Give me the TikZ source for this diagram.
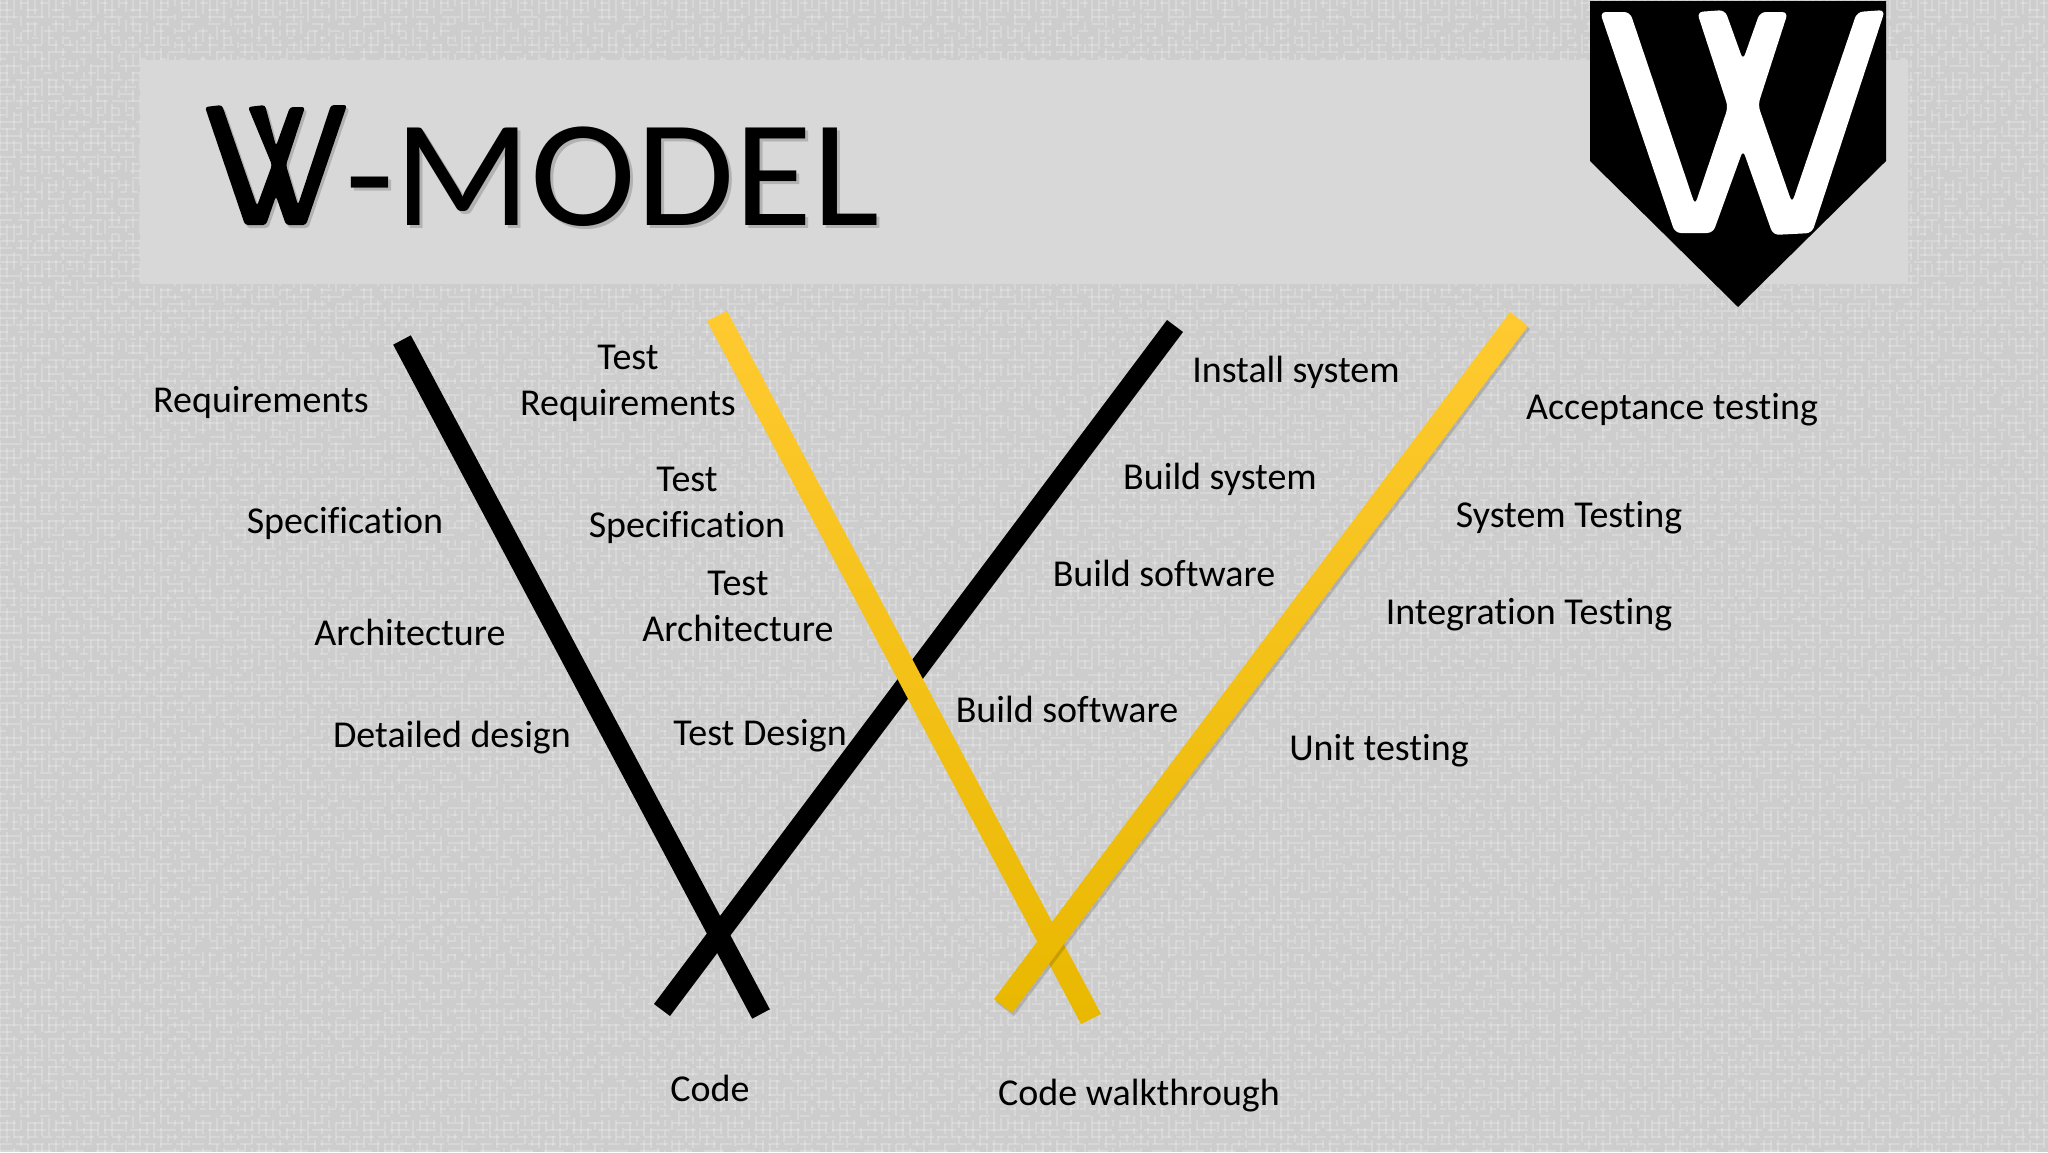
\documentclass[tikz,border=0pt]{standalone}
\usepackage{fontspec}
\setmainfont[Ligatures=NoCommon]{Carlito}

\definecolor{wallgrey}{HTML}{CDCDCD}
\definecolor{bannergrey}{HTML}{D8D8D8}
\definecolor{bandtop}{HTML}{FFCA30}
\definecolor{bandmid}{HTML}{FFC000}
\definecolor{bandlow}{HTML}{E9B800}

\tikzset{
  lbl/.style={font=\fontsize{19}{23}\selectfont, align=center, inner sep=0pt},
  bigtext/.style={anchor=base west, inner sep=0pt, font=\fontsize{76}{76}\selectfont},
  blackband/.style={line width=10pt, black},
  ribbon/.style={top color=bandtop, middle color=bandmid, bottom color=bandlow},
}

% the crossed W of the logo and of the title, in picture pixels
\newcommand{\logow}{(1600,12) -- (1630,12) -- (1695,205) -- (1728,107) -- (1697,12) -- (1725,10)
  -- (1743,60) -- (1760,12) -- (1788,12) -- (1758,105) -- (1792,203) -- (1857,12) -- (1885,10)
  -- (1812,233) -- (1773,235) -- (1743,150) -- (1713,233) -- (1675,233) -- cycle}
\newcommand{\titlew}{(205,107) -- (222,105) -- (257,206) -- (272,165) -- (248,107)
  -- (265,105) -- (276,146) -- (290,107) -- (305,107) -- (286,165) -- (298,205) -- (331,105)
  -- (347,105) -- (306,225) -- (286,225) -- (276,196) -- (266,225) -- (245,225) -- cycle}

\begin{document}
\begin{tikzpicture}[x=0.5pt,y=-0.5pt]
\useasboundingbox (0,0) rectangle (2048,1152);
\fill[wallgrey] (0,0) rectangle (2048,1152);
% woven wall
\pgfmathsetseed{7}
\foreach \i in {0,7,...,2048} {
  \pgfmathsetmacro\a{3+random(0,8)}
  \pgfmathsetmacro\b{2+random(0,5)}
  \draw[white, opacity=0.2, line width=1.3pt, dash pattern=on \a pt off \b pt] (\i,0) -- (\i,1152);
}
\foreach \j in {3,10,...,1152} {
  \pgfmathsetmacro\a{3+random(0,8)}
  \pgfmathsetmacro\b{2+random(0,5)}
  \draw[white, opacity=0.2, line width=1.3pt, dash pattern=on \a pt off \b pt] (0,\j) -- (2048,\j);
}

\fill[bannergrey] (140,60) rectangle (1908,284);

% title
\fill[black!30, rounded corners=1.5pt, xshift=1.2pt, yshift=-1.5pt] \titlew;
\fill[black, rounded corners=1.5pt] \titlew;
\node[bigtext, text=black!30] (titleshadow) at (348,228) {\scalebox{1.05}[1]{-MODEL}};
\node[bigtext] (title) at (345,225) {\scalebox{1.05}[1]{-MODEL}};

% logo
\fill[black] (1590,1) -- (1886,1) -- (1886,161) -- (1738,307) -- (1590,161) -- cycle;
\fill[white, rounded corners=3pt] \logow;

% the two V
\draw[blackband] (402,340) -- (761,1014);
\draw[blackband] (662,1010) -- (1175,326);
\shade[ribbon] (707,321) -- (727,311) -- (1101,1014) -- (1081,1024) -- cycle;
\fill[black, opacity=0.15] (996,1002) -- (1014,1016) -- (1530,329) -- (1512,315) -- cycle;
\shade[ribbon] (994,999) -- (1012,1013) -- (1528,326) -- (1510,312) -- cycle;

% left V
\node[lbl] (req) at (261,402) {Requirements};
\node[lbl] (spec) at (345,523) {Specification};
\node[lbl] (arch) at (410,632) {Architecture};
\node[lbl] (design) at (452,738) {Detailed design};
\node[lbl] (code) at (710,1088) {Code};
% right of black V
\node[lbl] (testreq) at (628,383) {Test\\Requirements};
\node[lbl] (testspec) at (687,505) {Test\\Specification};
\node[lbl] (testarch) at (738,606) {Test\\Architecture};
\node[lbl] (testdesign) at (760,736) {Test Design};
\node[lbl] (install) at (1296,372) {Install system};
\node[lbl] (buildsys) at (1220,479) {Build system};
\node[lbl] (buildsw) at (1164,573) {Build software};
\node[lbl] (buildsec) at (1067,709) {Build software};
\node[lbl] (accept) at (1672,410) {Acceptance testing};
\node[lbl] (systest) at (1569,518) {System Testing};
\node[lbl] (integ) at (1529,615) {Integration Testing};
\node[lbl] (unit) at (1379,751) {Unit testing};
\node[lbl] (walk) at (1139,1096) {Code walkthrough};
\end{tikzpicture}
\end{document}
